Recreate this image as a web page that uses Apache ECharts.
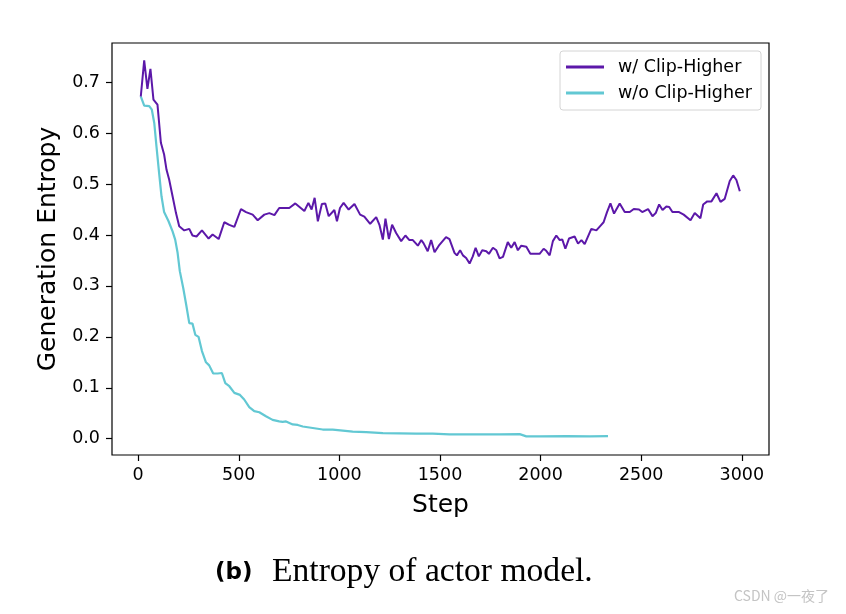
<!DOCTYPE html>
<html>
<head>
<meta charset="utf-8">
<script src="https://cdn.jsdelivr.net/npm/echarts@6/dist/echarts.min.js"></script>
<style>html,body{margin:0;padding:0;background:#fff;}#c{width:846px;height:614px;}</style>
</head>
<body>
<div id="c"></div>
<script>
var xTicks = [0, 500, 1000, 1500, 2000, 2500, 3000];
var yTicks = [0, 0.1, 0.2, 0.3, 0.4, 0.5, 0.6, 0.7];
var seriesNames = ['w/ Clip-Higher', 'w/o Clip-Higher'];

var clipSteps = [13,30,46,61,76,96,113,129,141,154,171,188,204,229,254,270,290,317,350,370,400,428,453,478,511,536,569,594,627,652,677,701,751,781,826,846,862,877,893,913,930,947,975,988,1003,1021,1046,1075,1103,1124,1153,1183,1199,1216,1229,1246,1262,1282,1307,1328,1348,1365,1390,1407,1418,1439,1456,1473,1494,1530,1547,1572,1584,1600,1614,1630,1647,1663,1677,1693,1710,1730,1743,1763,1780,1796,1813,1837,1854,1871,1887,1904,1929,1949,1995,2015,2028,2045,2061,2078,2095,2108,2123,2141,2169,2186,2203,2219,2252,2277,2297,2313,2330,2347,2365,2393,2418,2443,2463,2489,2505,2534,2556,2572,2589,2606,2625,2639,2655,2688,2711,2745,2766,2794,2808,2828,2849,2874,2894,2915,2940,2957,2973,2990];
var clipVals = [0.672,0.743,0.687,0.726,0.666,0.656,0.581,0.558,0.528,0.509,0.476,0.443,0.417,0.409,0.412,0.399,0.397,0.409,0.393,0.401,0.392,0.425,0.420,0.416,0.451,0.445,0.440,0.429,0.440,0.443,0.439,0.453,0.453,0.462,0.447,0.463,0.450,0.473,0.427,0.461,0.462,0.437,0.449,0.427,0.453,0.463,0.450,0.461,0.440,0.436,0.422,0.435,0.420,0.391,0.432,0.392,0.420,0.404,0.388,0.399,0.390,0.390,0.379,0.390,0.384,0.368,0.390,0.366,0.379,0.396,0.392,0.365,0.360,0.370,0.360,0.355,0.344,0.358,0.375,0.358,0.370,0.368,0.363,0.375,0.370,0.354,0.357,0.386,0.375,0.386,0.370,0.379,0.377,0.363,0.363,0.373,0.369,0.360,0.388,0.399,0.390,0.391,0.373,0.393,0.397,0.383,0.390,0.382,0.412,0.409,0.418,0.425,0.445,0.462,0.442,0.462,0.445,0.445,0.451,0.450,0.445,0.451,0.437,0.443,0.460,0.449,0.456,0.455,0.445,0.445,0.440,0.429,0.443,0.433,0.460,0.466,0.466,0.482,0.465,0.471,0.506,0.517,0.508,0.486];

var noClipSteps = [13,30,55,68,80,91,104,116,129,151,171,184,196,207,224,240,254,270,284,300,317,337,353,373,395,416,433,453,478,506,527,552,577,602,635,668,701,718,735,768,793,818,851,884,917,967,1017,1066,1133,1216,1299,1381,1464,1547,1630,1713,1796,1896,1929,1995,2128,2244,2335];
var noClipVals = [0.672,0.654,0.653,0.646,0.620,0.574,0.522,0.476,0.445,0.427,0.407,0.391,0.365,0.329,0.296,0.260,0.227,0.226,0.204,0.200,0.172,0.150,0.144,0.128,0.128,0.129,0.109,0.103,0.090,0.086,0.077,0.062,0.054,0.052,0.044,0.037,0.034,0.033,0.034,0.028,0.027,0.024,0.022,0.020,0.018,0.018,0.016,0.014,0.013,0.011,0.0105,0.0098,0.0098,0.0085,0.0085,0.0085,0.0085,0.009,0.0046,0.0046,0.005,0.0046,0.005];

function zip(a, b) { return a.map(function (v, i) { return [v, b[i]]; }); }

var chart = echarts.init(document.getElementById('c'), null, { renderer: 'canvas' });
var font = 'DejaVu Sans';
chart.setOption({
  animation: false,
  backgroundColor: '#fff',
  grid: { left: 112, top: 43, width: 657, height: 412, show: true, borderColor: '#000', borderWidth: 1.2, backgroundColor: 'transparent' },
  legend: {
    orient: 'vertical', left: 560, top: 51, data: seriesNames,
    itemWidth: 38, itemHeight: 3, itemGap: 6,
    padding: [6, 9, 7, 6],
    borderColor: '#d4d4d4', borderWidth: 1, borderRadius: 3, backgroundColor: '#fff',
    textStyle: { fontFamily: font, fontSize: 17.5, lineHeight: 20, color: '#000', padding: [0, 0, 0, 9] },
    icon: 'rect'
  },
  xAxis: {
    type: 'value', min: -130, max: 3135,
    name: 'Step', nameLocation: 'middle', nameGap: 38,
    nameTextStyle: { fontFamily: font, fontSize: 25, color: '#000' },
    axisLine: { show: false, onZero: false },
    axisTick: { show: true, inside: false, length: 6, lineStyle: { color: '#000', width: 1.2 }, customValues: xTicks },
    axisLabel: { show: true, fontFamily: font, fontSize: 17.5, color: '#000', margin: 11, customValues: xTicks,
      formatter: function (v) { return String(v); } },
    splitLine: { show: false }
  },
  yAxis: {
    type: 'value', min: -0.032, max: 0.777,
    name: 'Generation Entropy', nameLocation: 'middle', nameGap: 41, nameRotate: 90,
    nameTextStyle: { fontFamily: font, fontSize: 25, color: '#000' },
    axisLine: { show: false, onZero: false },
    axisTick: { show: true, inside: false, length: 6, lineStyle: { color: '#000', width: 1.2 }, customValues: yTicks },
    axisLabel: { show: true, fontFamily: font, fontSize: 17.5, color: '#000', margin: 12, customValues: yTicks,
      formatter: function (v) { return v.toFixed(1); } },
    splitLine: { show: false }
  },
  series: [
    { name: seriesNames[0], type: 'line', data: zip(clipSteps, clipVals), symbol: 'none', z: 3,
      lineStyle: { color: '#5c18a9', width: 2 }, itemStyle: { color: '#5c18a9' } },
    { name: seriesNames[1], type: 'line', data: zip(noClipSteps, noClipVals), symbol: 'none', z: 2,
      lineStyle: { color: '#62c8d3', width: 2.2 }, itemStyle: { color: '#62c8d3' } }
  ],
  graphic: [
    { type: 'text', left: 215, top: 562, style: { text: '(b)', fontFamily: font, fontWeight: 'bold', fontSize: 23, fill: '#000' } },
    { type: 'text', left: 272, top: 555, style: { text: 'Entropy of actor model.', fontFamily: 'Liberation Serif', fontSize: 33.6, fill: '#000' } },
    { type: 'text', left: 734, top: 589, style: { text: 'CSDN @一夜了', fontFamily: 'Noto Sans CJK SC', fontSize: 14, fill: '#c4c4c4' } }
  ]
});
</script>
</body>
</html>
